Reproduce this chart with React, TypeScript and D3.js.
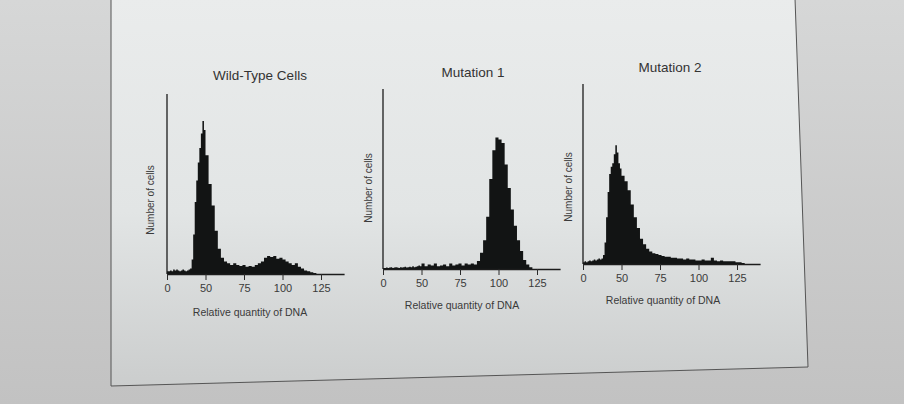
import { useEffect, useRef } from "react";
import * as d3 from "d3";

// histogram bins, 2 units of DNA each, from 0 to 140
const binStarts = d3.range(0, 140, 2);
const binWidth = 2;

const xTicks = [0, 50, 75, 100, 125];
const titles = ["Wild-Type Cells", "Mutation 1", "Mutation 2"];
const xLabel = "Relative quantity of DNA";
const yLabel = "Number of cells";

// heights in % of the y axis
const wildType = [
  1.5, 1.5, 2, 1.5, 2.5, 2, 2.5, 2, 1.5, 2, 2.5, 2, 1.5, 2, 2.5,
  3, 8, 22, 40, 52, 62, 70, 78, 85, 80,
  66, 50, 38, 24, 14, 9, 7, 6, 5, 6, 5, 4.5, 5, 4, 4.5, 4, 5, 6, 7,
  9, 10, 9.5, 10, 8.5, 9, 8, 7, 6, 5, 6, 4, 3, 2, 1.5, 1, 0.5,
  0, 0, 0, 0, 0, 0, 0, 0, 0,
];

const mutation1 = [
  0.5, 0.5, 0.8, 0.5, 0.8, 1, 0.5, 0.8, 1, 0.8, 0.5, 1, 0.8, 1, 1.2, 0.8,
  1, 1.2, 1, 1.5, 1, 1.2, 1.5,
  2, 1.5, 3, 1.5, 2.5, 2, 3, 1.5, 2, 2.5, 1.5, 3, 2, 2.5, 3, 2, 3, 2.5, 3,
  2.5, 4.5, 9, 16, 29, 50, 66, 73, 72, 70, 58, 45, 33, 24, 16, 10, 5, 2.5, 1,
  0, 0, 0, 0, 0, 0, 0, 0, 0,
];

const mutation2 = [
  1, 1.5, 1, 1.5, 2, 1.5, 2, 2.5, 2, 2.5, 3, 2.5,
  3, 5, 12, 26, 40, 50, 54, 56, 61, 66, 62, 56, 53,
  49, 46, 41, 33, 26, 20, 14, 11, 8.5, 7, 6, 5.5, 5, 4.5, 4, 4, 3.5, 3.5,
  3, 3, 2.5, 3, 2.5, 2.5, 2, 2, 2.5, 2, 2, 3.5, 2, 1.5, 2, 1.5, 1.5, 1.5,
  1.5, 1, 1, 0.5, 0, 0, 0, 0, 0,
];

const series = [wildType, mutation1, mutation2];

// where each small chart sits in the photo
const layouts = [
  { ox: 167, oy: 274, title: [260, 80], xl: [250, 316], yl: [151, 200] },
  { ox: 383, oy: 269, title: [473, 77], xl: [462, 309], yl: [369, 188] },
  { ox: 583, oy: 264, title: [670, 72], xl: [663, 304], yl: [569, 187] },
];

const W = 904;
const H = 404;
const plotH = 180;
const per25 = 38.5;
const font = "'Liberation Sans', Arial, sans-serif";

export default function App() {
  const svgRef = useRef<SVGSVGElement>(null);

  useEffect(() => {
    if (!svgRef.current) return;
    const svg = d3.select(svgRef.current);
    svg.selectAll("*").remove();

    const defs = svg.append("defs");
    const bg = defs.append("linearGradient").attr("id", "bg").attr("x1", 0).attr("y1", 0).attr("x2", 0).attr("y2", 1);
    bg.append("stop").attr("offset", "0%").attr("stop-color", "#d6d7d7");
    bg.append("stop").attr("offset", "100%").attr("stop-color", "#c2c2c2");
    const pg = defs.append("linearGradient").attr("id", "panel").attr("x1", 0).attr("y1", 0).attr("x2", 0).attr("y2", 1);
    pg.append("stop").attr("offset", "0%").attr("stop-color", "#eaecec");
    pg.append("stop").attr("offset", "55%").attr("stop-color", "#e2e5e5");
    pg.append("stop").attr("offset", "100%").attr("stop-color", "#cbcdcd");

    svg.append("rect").attr("width", W).attr("height", H).attr("fill", "url(#bg)");
    svg
      .append("path")
      .attr("d", "M111,-2 L795,-2 L808,367 L111,386 Z")
      .attr("fill", "url(#panel)")
      .attr("stroke", "#555")
      .attr("stroke-width", 1);

    layouts.forEach((lay, i) => {
      const data = series[i];
      const x = d3
        .scaleLinear()
        .domain([0, 50, 140])
        .range([0, per25, per25 + (90 / 25) * per25]);
      const y = d3.scaleLinear().domain([0, 100]).range([plotH, 0]);

      const g = svg
        .append("g")
        .attr("transform", `translate(${lay.ox},${lay.oy - plotH})`);

      // step outline of the histogram, closed on the last bin's right edge
      const pts: [number, number][] = data.map((d, j) => [binStarts[j], d]);
      pts.push([binStarts[data.length - 1] + binWidth, data[data.length - 1]]);
      const area = d3
        .area<[number, number]>()
        .x((d) => x(d[0]))
        .y0(plotH)
        .y1((d) => y(d[1]))
        .curve(d3.curveStepAfter);
      g.append("path").attr("d", area(pts)).attr("fill", "#121414");

      const ax = g
        .append("g")
        .attr("transform", `translate(0,${plotH})`)
        .call(d3.axisBottom(x).tickValues(xTicks).tickSizeInner(6).tickSizeOuter(0).tickPadding(4));
      ax.select(".domain").attr("stroke", "#1c1c1c").attr("stroke-width", 1.3);
      ax.selectAll(".tick line").attr("stroke", "#2a2a2a").attr("stroke-width", 1);
      ax.selectAll("text")
        .attr("font-family", font)
        .attr("font-size", 11)
        .attr("fill", "#3a3a3a");

      g.append("line")
        .attr("x1", 0)
        .attr("x2", 0)
        .attr("y1", 0)
        .attr("y2", plotH)
        .attr("stroke", "#1c1c1c")
        .attr("stroke-width", 1.3);

      svg
        .append("text")
        .attr("x", lay.title[0])
        .attr("y", lay.title[1])
        .attr("text-anchor", "middle")
        .attr("font-family", font)
        .attr("font-size", 13.5)
        .attr("fill", "#333")
        .text(titles[i]);

      svg
        .append("text")
        .attr("x", lay.xl[0])
        .attr("y", lay.xl[1])
        .attr("text-anchor", "middle")
        .attr("font-family", font)
        .attr("font-size", 10.5)
        .attr("fill", "#3a3a3a")
        .text(xLabel);

      svg
        .append("text")
        .attr("transform", `translate(${lay.yl[0] + 3},${lay.yl[1]}) rotate(-90)`)
        .attr("text-anchor", "middle")
        .attr("font-family", font)
        .attr("font-size", 10)
        .attr("fill", "#3a3a3a")
        .text(yLabel);
    });
  }, []);

  return (
    <svg
      ref={svgRef}
      width={W}
      height={H}
      style={{ position: "fixed", left: 0, top: 0, display: "block" }}
    />
  );
}
